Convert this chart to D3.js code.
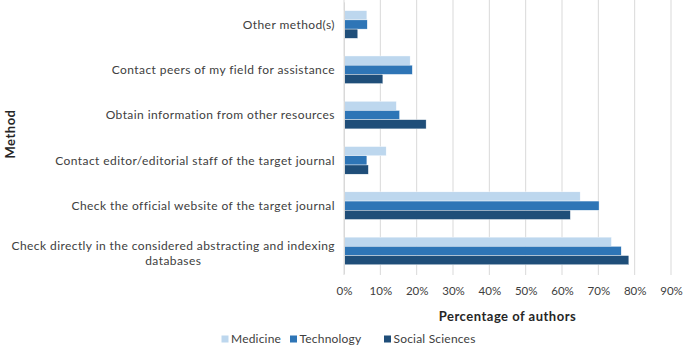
<!DOCTYPE html>
<html>
<head>
<meta charset="utf-8">
<script src="https://cdn.jsdelivr.net/npm/d3@7"></script>
<style>
  html, body { margin: 0; padding: 0; background: #fff; }
  svg { display: block; font-family: Lato, "Open Sans", sans-serif; }
</style>
</head>
<body>
<svg id="chart" width="685" height="347"></svg>
<script>
// Categories, listed top to bottom as shown
const categories = [
  "Other method(s)",
  "Contact peers of my field for assistance",
  "Obtain information from other resources",
  "Contact editor/editorial staff of the target journal",
  "Check the official website of the target journal",
  "Check directly in the considered abstracting and indexing databases"
];
const seriesNames = ["Medicine", "Technology", "Social Sciences"];
const medicine       = [6.3, 18.2, 14.4, 11.6, 65.0, 73.6];
const technology     = [6.4, 18.8, 15.3, 6.3, 70.2, 76.3];
const socialSciences = [3.8, 10.7, 22.6, 6.7, 62.3, 78.4];
const xTicks = [0, 10, 20, 30, 40, 50, 60, 70, 80, 90];
const xTitle = "Percentage of authors";
const yTitle = "Method";

const colors = ["#bdd7ee", "#2e75b6", "#1f4e79"];
const seriesValues = [medicine, technology, socialSciences];

const svg = d3.select("#chart");
const pLeft = 344, pRight = 671, pTop = 1.85, pBottom = 273.6;

const x = d3.scaleLinear().domain([0, 90]).range([pLeft, pRight]);
const y = d3.scaleBand().domain(categories).range([pTop, pBottom])
  .paddingInner(0.39).paddingOuter(0.195);
const ySub = d3.scaleBand().domain(seriesNames).range([0, y.bandwidth()]);

// gridlines
svg.append("g").selectAll("line").data(xTicks).join("line")
  .attr("x1", d => x(d)).attr("x2", d => x(d))
  .attr("y1", 0).attr("y2", 275)
  .attr("stroke", "#d9d9d9").attr("stroke-width", 1);

// bars
const groups = svg.append("g").selectAll("g").data(categories).join("g")
  .attr("transform", d => `translate(0,${y(d)})`);
groups.selectAll("rect")
  .data((c, i) => seriesNames.map((s, j) => ({ s, j, v: seriesValues[j][i] })))
  .join("rect")
  .attr("x", x(0))
  .attr("y", d => ySub(d.s))
  .attr("width", d => x(d.v) - x(0))
  .attr("height", ySub.bandwidth())
  .attr("fill", d => colors[d.j])
  .attr("stroke", "#fff").attr("stroke-width", 0.4);

// x axis tick labels
const xAxis = d3.axisBottom(x).tickValues(xTicks).tickFormat(d => d + "%").tickSize(0).tickPadding(0);
const gx = svg.append("g").attr("transform", "translate(0,287)").call(xAxis);
gx.select(".domain").remove();
gx.selectAll("text").attr("fill", "#404040").attr("font-size", "11.5px").attr("dy", "0.71em")
  .attr("font-family", "Lato, 'Open Sans', sans-serif");

// y axis line
const yAxis = d3.axisLeft(y).tickSize(0).tickPadding(0).tickFormat("");
const gy = svg.append("g").attr("transform", `translate(${pLeft},0)`).call(yAxis);
gy.select(".domain").attr("stroke", "#d9d9d9");

// y category labels
const labelX = 335;
const labStyle = sel => sel.attr("font-size", "12px").attr("letter-spacing", "0.42px").attr("fill", "#404040");
categories.forEach((c, i) => {
  const cy = y(c) + y.bandwidth() / 2;
  if (i === categories.length - 1) {
    const line1 = "Check directly in the considered abstracting and indexing";
    const line2 = "databases";
    const t1 = svg.append("text").attr("x", labelX).attr("y", cy - 5)
      .attr("text-anchor", "end").attr("dy", "0.35em").call(labStyle).text(line1);
    const w = t1.node().getComputedTextLength();
    svg.append("text").attr("x", labelX - w / 2).attr("y", cy + 10)
      .attr("text-anchor", "middle").attr("dy", "0.35em").call(labStyle).text(line2);
  } else {
    svg.append("text").attr("x", labelX).attr("y", cy)
      .attr("text-anchor", "end").attr("dy", "0.35em").call(labStyle).text(c);
  }
});

// axis titles
svg.append("text").attr("x", (pLeft + pRight) / 2).attr("y", 316).attr("dy", "0.35em")
  .attr("text-anchor", "middle").attr("font-weight", "bold").attr("font-size", "13px")
  .attr("letter-spacing", "0.5px").attr("fill", "#262626").text(xTitle);
svg.append("text").attr("transform", "translate(10,134) rotate(-90)").attr("dy", "0.35em")
  .attr("text-anchor", "middle").attr("font-weight", "bold").attr("font-size", "13px")
  .attr("letter-spacing", "0.5px").attr("fill", "#262626").text(yTitle);

// legend
const legendX = [221.5, 290, 384];
const lg = svg.append("g").selectAll("g").data(seriesNames).join("g")
  .attr("transform", (d, i) => `translate(${legendX[i]},339)`);
lg.append("rect").attr("x", 0).attr("y", -3.5).attr("width", 7).attr("height", 7)
  .attr("fill", (d, i) => colors[i]);
lg.append("text").attr("x", 9.5).attr("y", 0).attr("dy", "0.35em")
  .attr("font-size", "12px").attr("letter-spacing", "0.2px").attr("fill", "#404040").text(d => d);
</script>
</body>
</html>
